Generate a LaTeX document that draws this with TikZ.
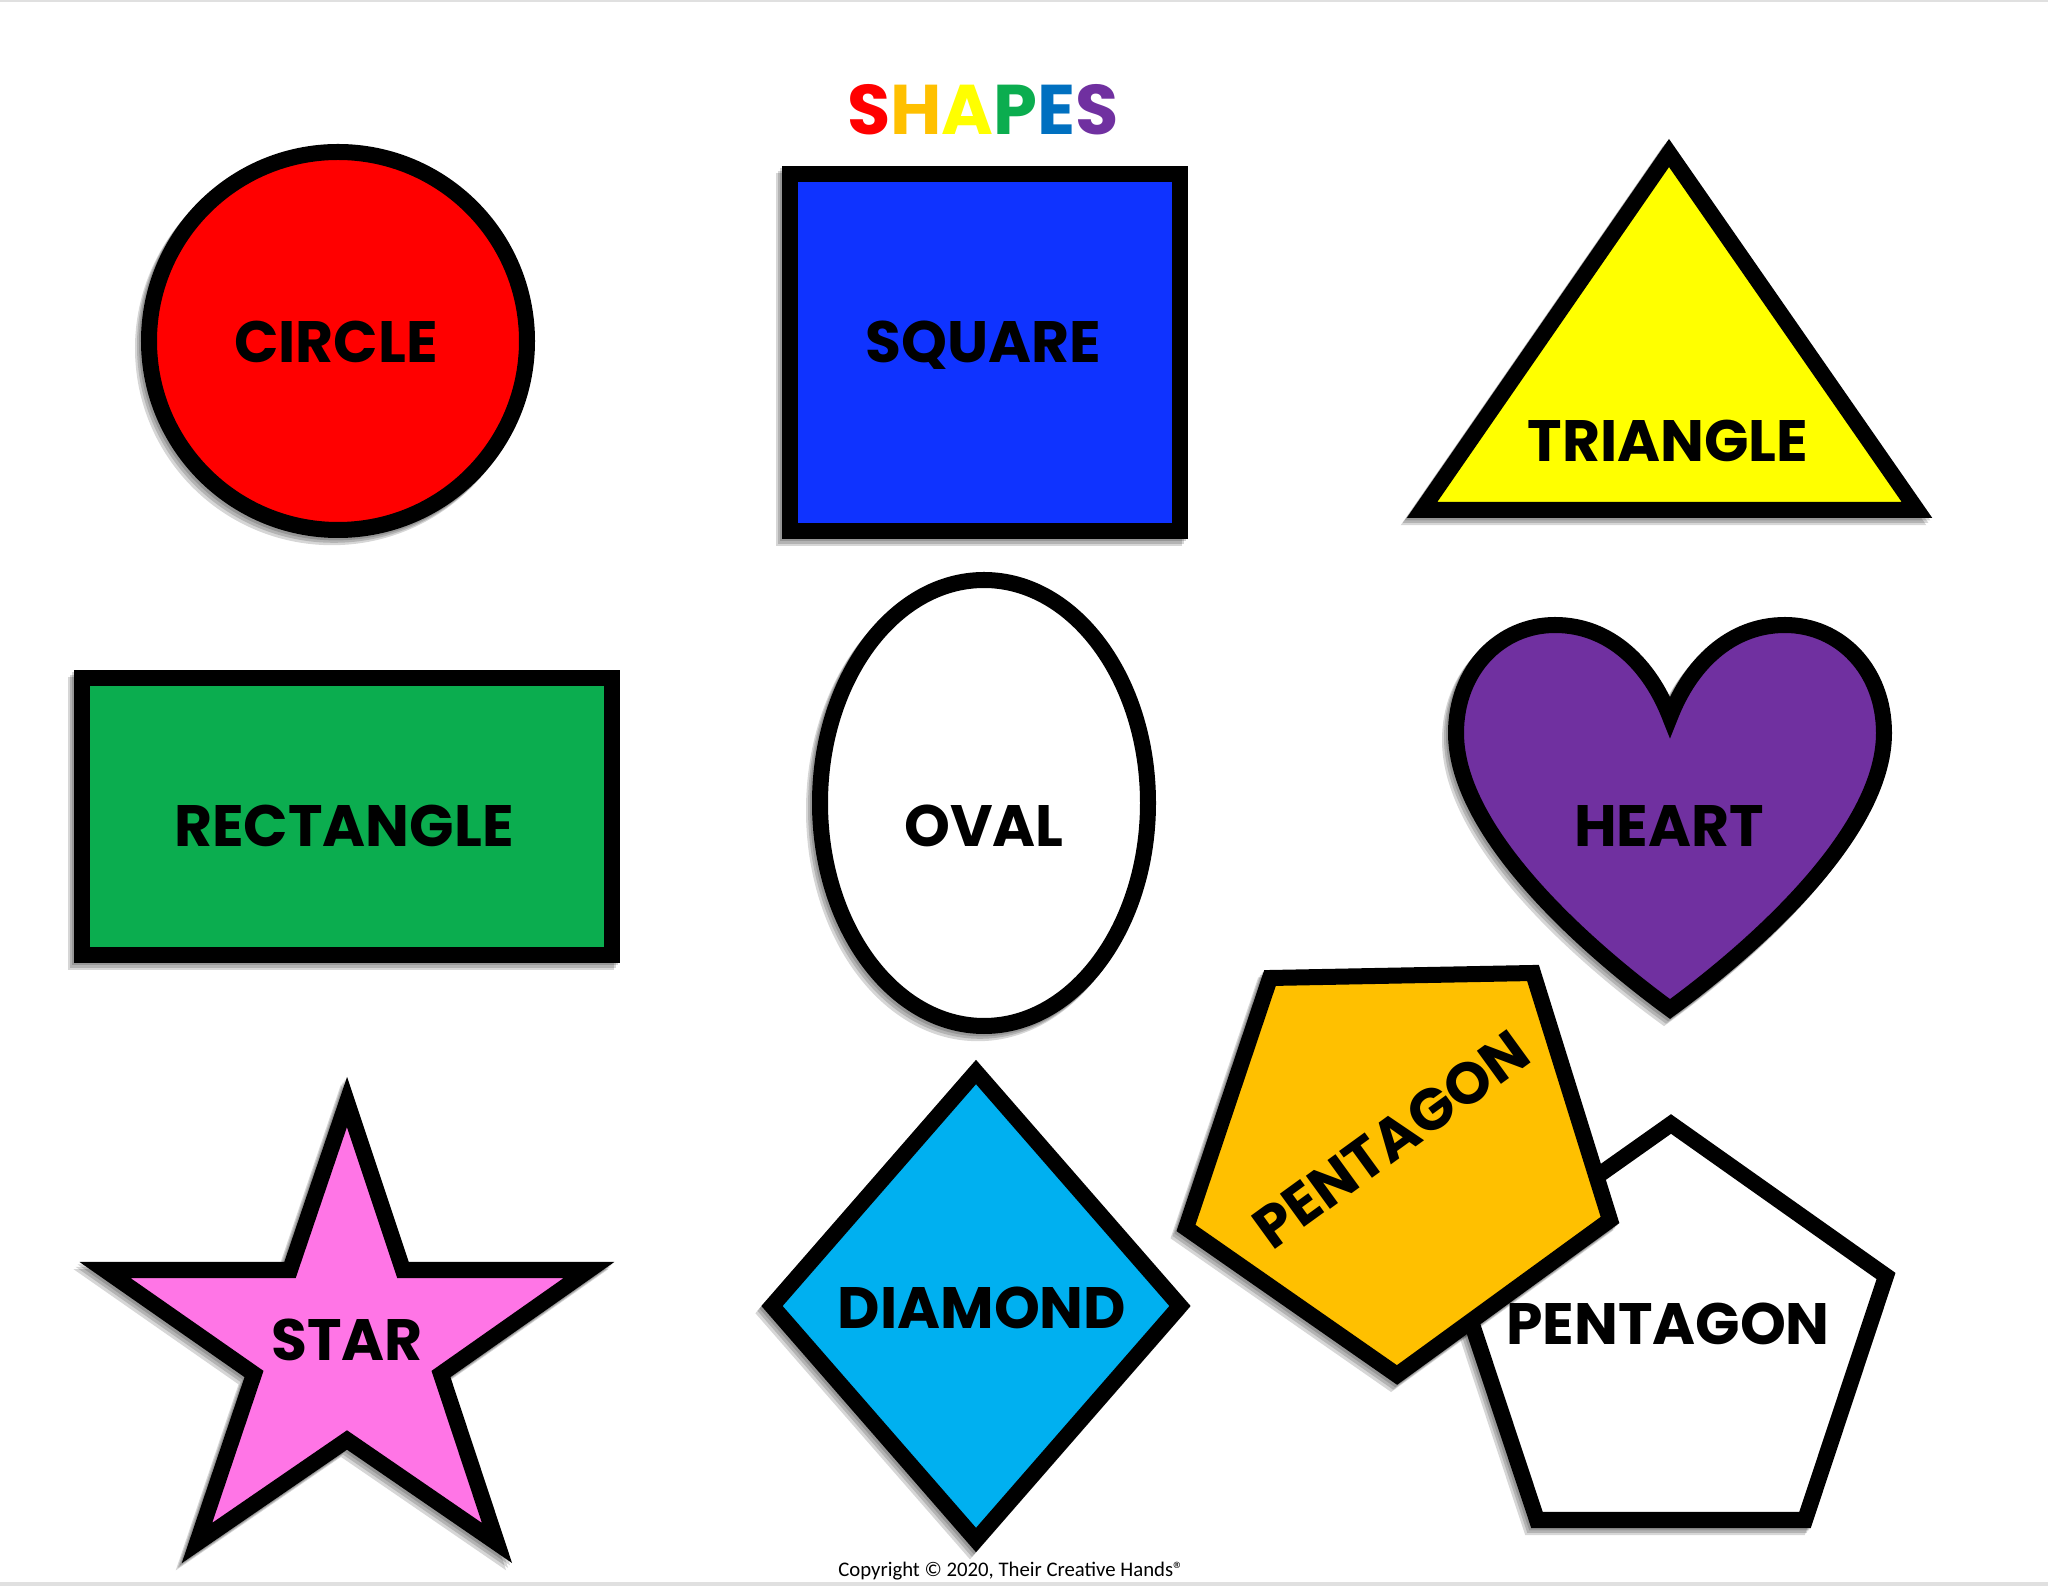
\documentclass[tikz,border=0pt]{standalone}
\usepackage{fontspec}
\setmainfont{Poppins}
\newfontfamily\footfont{Carlito}
\definecolor{rainbowred}{HTML}{FF0000}
\definecolor{rainbowgold}{HTML}{FFC000}
\definecolor{rainbowyellow}{HTML}{FFFF00}
\definecolor{rainbowgreen}{HTML}{0BAD4F}
\definecolor{rainbowblue}{HTML}{0070C0}
\definecolor{rainbowpurple}{HTML}{7030A0}
\definecolor{squareblue}{HTML}{0F33FF}
\definecolor{skyblue}{HTML}{00B0F0}
\definecolor{starpink}{HTML}{FF75E6}
\tikzset{
every picture/.style={x=0.01cm, y=-0.01cm},
%%%%%%%%%%  Shape styles
blurstep/.style={preaction={draw=black, draw opacity=0.16, line width=0.16cm, miter limit=10,
                 transform canvas={xshift=-#1*0.01cm, yshift=-#1*0.012cm}}},
softshadow/.style={blurstep=6, blurstep=4, blurstep=2},
shapeline/.style={draw=black, line width=0.16cm, miter limit=10, softshadow},
%%%%%%%%%%  Text styles
shapelabel/.style={font=\bfseries\fontsize{16.6pt}{16.6pt}\selectfont, text=black,
                   inner sep=0pt, anchor=base},
}
\begin{document}
\begin{tikzpicture}
\useasboundingbox (0,0) rectangle (2048,1586);
\fill[white] (0,0) rectangle (2048,1586);
\fill[black!12] (0,0) rectangle (2048,2);
\fill[black!12] (0,1582) rectangle (2048,1586);
\node[font=\bfseries\fontsize{20pt}{20pt}\selectfont, inner sep=0pt, anchor=base] (title) at (983,135)
  {\textcolor{rainbowred}{S}\textcolor{rainbowgold}{H}\textcolor{rainbowyellow}{A}\textcolor{rainbowgreen}{P}\textcolor{rainbowblue}{E}\textcolor{rainbowpurple}{S}};
%%%% first row
\draw[shapeline, fill=red] (338,341) circle (189);
\node[shapelabel] (circlelabel) at (336,363) {CIRCLE};
\draw[shapeline, fill=squareblue] (790,174) rectangle (1180,531);
\node[shapelabel] (squarelabel) at (983,363) {SQUARE};
\draw[shapeline, fill=rainbowyellow] (1669,153) -- (1917,510) -- (1422,510) -- cycle;
\node[shapelabel] (trianglelabel) at (1668,462) {TRIANGLE};
%%%% second row
\draw[shapeline, fill=rainbowgreen] (82,678) rectangle (612,955);
\node[shapelabel] (rectanglelabel) at (344,847) {RECTANGLE};
\draw[shapeline, fill=white] (984,803) ellipse (164 and 223);
\node[shapelabel] (ovallabel) at (984,847) {OVAL};
\draw[shapeline, fill=rainbowpurple] (1670,1009) .. controls (1592,952) and (1456,835) .. (1456,733)
  .. controls (1456,670) and (1500,625) .. (1555,625)
  .. controls (1610,625) and (1650,665) .. (1670,717)
  .. controls (1690,665) and (1730,625) .. (1785,625)
  .. controls (1840,625) and (1884,670) .. (1884,733)
  .. controls (1884,835) and (1748,952) .. (1670,1009) -- cycle;
\node[shapelabel] (heartlabel) at (1669,847) {HEART};
%%%% third row
\draw[shapeline, fill=starpink] (347,1102) -- (403,1270) -- (589,1270) -- (441,1374) -- (497,1543)
  -- (347,1440) -- (197,1543) -- (254,1374) -- (105,1270) -- (290,1270) -- cycle;
\node[shapelabel] (starlabel) at (347,1360) {STAR};
\draw[shapeline, fill=skyblue] (976,1072) -- (1180,1306) -- (976,1540) -- (772,1306) -- cycle;
\node[shapelabel] (diamondlabel) at (982,1328) {DIAMOND};
\draw[shapeline, fill=white] (1671,1124) -- (1886,1276) -- (1805,1520) -- (1537,1520) -- (1456,1276) -- cycle;
\draw[shapeline, fill=rainbowgold] (1270,978) -- (1533,973) -- (1610,1220) -- (1397,1375) -- (1186,1228) -- cycle;
\node[shapelabel] (whitelabel) at (1668,1344) {PENTAGON};
\node[shapelabel, rotate=36] (goldlabel) at (1403,1156) {PENTAGON};
\node[font=\footfont\fontsize{5.9pt}{5.9pt}\selectfont, inner sep=0pt, anchor=base] (copyright) at (1011,1576)
  {Copyright © 2020, Their Creative Hands®};
\end{tikzpicture}
\end{document}
